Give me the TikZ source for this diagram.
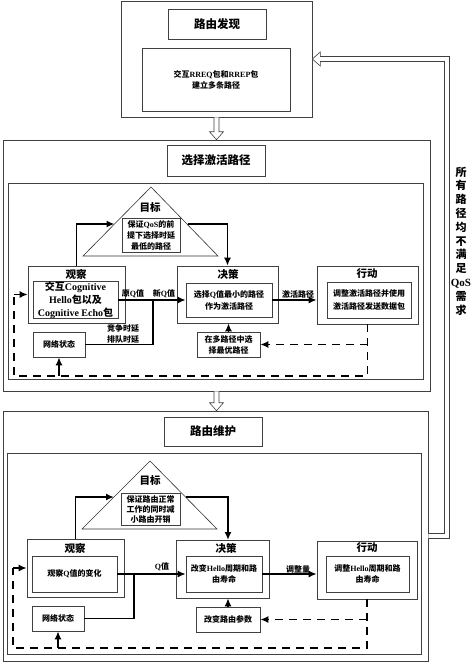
\documentclass[tikz,border=0pt]{standalone}
\usepackage{fontspec}
\setmainfont{Liberation Serif}
\newfontfamily\cjkf{Noto Sans CJK SC}
\usetikzlibrary{arrows.meta,calc}
\newcommand\C[1]{{\cjkf #1}}
\begin{document}
\begin{tikzpicture}[x=1pt,y=-1pt,
  box/.style={draw=black!75, line width=0.6pt, inner sep=0pt, align=center, fill=white},
  ttl/.style={box, font=\fontsize{11.5}{13}\selectfont\bfseries},
  sml/.style={font=\fontsize{8}{11}\selectfont\bfseries},
  lbl/.style={inner sep=0pt, font=\fontsize{10.5}{12}\selectfont\bfseries},
  txt/.style={inner sep=0pt, align=center, font=\fontsize{8}{11}\selectfont\bfseries},
  thk/.style={line width=1.7pt, -{Latex[length=8pt,width=7pt]}},
  thkn/.style={line width=1.7pt},
  dsh/.style={line width=1.8pt, dash pattern=on 8pt off 6pt},
  dsha/.style={dsh, -{Latex[length=8pt,width=7pt]}},
  hol/.style={draw=black!75, line width=0.6pt, fill=white, line join=miter},
  tri/.style={draw=black!80, line width=0.6pt}
]
\useasboundingbox (0,0) rectangle (474,664);

% ---------- route discovery ----------
\node[box, minimum width=191, minimum height=116] (disc) at (216.5,59) {};
\node[ttl, minimum width=98, minimum height=30] (discT) at (217,24) {\C{路由发现}};
\node[box, sml, minimum width=148, minimum height=63] (discI) at (216,79.5)
  {\C{交互}RREQ\C{包和}RREP\C{包}\\\C{建立多条路径}};

% ---------- select active path ----------
\node[box, minimum width=427, minimum height=251] (sel) at (216.5,265.5) {};
\node[ttl, minimum width=98, minimum height=31] (selT) at (216,160.5) {\C{选择激活路径}};
\node[box, minimum width=415, minimum height=196] (selI) at (215.5,281) {};

\coordinate (ta1) at (151,187);
\coordinate (tl1) at (83,256);
\coordinate (tr1) at (218,256);
\draw[tri] (ta1) -- (tl1) -- (tr1) -- cycle;
\node[lbl] (goal1) at (150,208) {\C{目标}};
\node[box, txt, minimum width=58, minimum height=34] (goalB1) at (151,235)
  {\C{保证}QoS\C{的前}\\\C{提下选择时延}\\\C{最低的路径}};

\node[box, minimum width=97, minimum height=57] (obs1) at (76.5,294.5) {};
\node[lbl] (obsL1) at (76,274) {\C{观察}};
\node[box, minimum width=85, minimum height=36, font=\fontsize{10}{13}\selectfont\bfseries] (obsI1) at (75.5,300)
  {\C{交互}Cognitive\\Hello\C{包以及}\\Cognitive Echo\C{包}};
\node[box, txt, minimum width=52, minimum height=25] (net1) at (59,344.5) {\C{网络状态}};

\node[box, minimum width=101, minimum height=57] (dec1) at (227.5,294.5) {};
\node[lbl] (decL1) at (228,274) {\C{决策}};
\node[box, txt, minimum width=86, minimum height=34, font=\fontsize{8}{12}\selectfont\bfseries] (decI1) at (229,300)
  {\C{选择}Q\C{值最小的路径}\\\C{作为激活路径}};

\node[box, minimum width=101, minimum height=58] (act1) at (367.5,295) {};
\node[lbl] (actL1) at (367,274) {\C{行动}};
\node[box, txt, minimum width=84, minimum height=36, font=\fontsize{8}{13}\selectfont\bfseries] (actI1) at (369,300)
  {\C{调整激活路径并使用}\\\C{激活路径发送数据包}};

\node[box, txt, minimum width=63, minimum height=25] (multi) at (228.5,344.5)
  {\C{在多路径中选}\\\C{择最优路径}};

% connectors section 2
\coordinate (gl1) at (114.5,224);
\coordinate (gr1) at (187.5,224);
\draw[thk] (obs1.north) -- (obs1.north |- gl1) -- (gl1);
\draw[thk] (gr1) -- (dec1.north |- gr1) -- (dec1.north);
\draw[thk] (obsI1.east) -- (decI1.west);
\coordinate (j1) at (153,300);
\draw[thkn] (net1.east) -- (j1 |- net1.east) -- (j1);
\node[txt] at (133,294) {\C{原}Q\C{值}};
\node[txt] at (164,294) {\C{新}Q\C{值}};
\node[txt] at (123,333.5) {\C{竞争时延}\\\C{排队时延}};
\draw[thk] (decI1.east) -- (act1.west |- decI1.east);
\node[txt] at (298,294) {\C{激活路径}};
\draw[thk] (multi.north) -- (multi.north |- dec1.south);
\coordinate (b1) at (14,376);
\draw[dsh] (act1.south) -- (act1.south |- b1) -- (b1) -- (b1 |- obs1.west);
\draw[dsha] (b1 |- obs1.west) -- (obs1.west);
\draw[dsha] (act1.south |- multi.east) -- (multi.east);
\draw[thk] (net1.south |- b1) -- (net1.south);

% ---------- route maintenance ----------
\node[box, minimum width=425, minimum height=250] (mnt) at (215.5,536) {};
\node[ttl, minimum width=98, minimum height=29] (mntT) at (213,431.5) {\C{路由维护}};
\node[box, minimum width=414, minimum height=201] (mntI) at (214,553.5) {};

\coordinate (ta2) at (150,461);
\coordinate (tl2) at (82,529);
\coordinate (tr2) at (217,529);
\draw[tri] (ta2) -- (tl2) -- (tr2) -- cycle;
\node[lbl] (goal2) at (150,481) {\C{目标}};
\node[box, txt, minimum width=59, minimum height=32, font=\fontsize{8}{10}\selectfont\bfseries] (goalB2) at (150.5,509)
  {\C{保证路由正常}\\\C{工作的同时减}\\\C{小路由开销}};

\node[box, minimum width=97, minimum height=58] (obs2) at (75.5,568) {};
\node[lbl] (obsL2) at (75,548) {\C{观察}};
\node[box, txt, minimum width=85, minimum height=36] (obsI2) at (74.5,574) {\C{观察}Q\C{值的变化}};
\node[box, txt, minimum width=52, minimum height=25] (net2) at (58,618.5) {\C{网络状态}};

\node[box, minimum width=93, minimum height=58] (dec2) at (223,569) {};
\node[lbl] (decL2) at (226,548) {\C{决策}};
\node[box, txt, minimum width=76, minimum height=36] (decI2) at (224,574)
  {\C{改变}Hello\C{周期和路}\\\C{由寿命}};

\node[box, minimum width=100, minimum height=58] (act2) at (367,570) {};
\node[lbl] (actL2) at (367,548) {\C{行动}};
\node[box, txt, minimum width=83, minimum height=36] (actI2) at (367.5,574)
  {\C{调整}Hello\C{周期和路}\\\C{由寿命}};

\node[box, txt, minimum width=64, minimum height=25] (param) at (228,619.5) {\C{改变路由参数}};

% connectors section 3
\coordinate (gl2) at (114,497);
\coordinate (gr2) at (186,497);
\draw[thk] (obs2.north) -- (obs2.north |- gl2) -- (gl2);
\draw[thk] (gr2) -- (228,497) -- (228,540);
\draw[thk] (obsI2.east) -- (decI2.west);
\coordinate (j2) at (134,574);
\draw[thkn] (net2.east) -- (j2 |- net2.east) -- (j2);
\node[txt] at (162,567) {Q\C{值}};
\draw[thk] (decI2.east) -- (act2.west |- decI2.east);
\node[txt] at (298,569) {\C{调整量}};
\draw[thk] (param.north) -- (param.north |- dec2.south);
\coordinate (b2) at (13,648);
\draw[dsh] (act2.south) -- (act2.south |- b2) -- (b2) -- (b2 |- obs2.west);
\draw[dsha] (b2 |- obs2.west) -- (obs2.west);
\draw[dsha] (act2.south |- param.east) -- (param.east);
\draw[thk] (net2.south |- b2) -- (net2.south);

% ---------- hollow arrows ----------
\draw[hol] ($(disc.south)+(-2.5,0)$) -- ($(sel.north)+(-2.5,-8)$) -- ($(sel.north)+(-7,-8)$)
  -- (sel.north) -- ($(sel.north)+(7,-8)$) -- ($(sel.north)+(2.5,-8)$) -- ($(disc.south)+(2.5,0)$);
\draw[hol] ($(sel.south)+(-2.5,0)$) -- ($(sel.south|-mnt.north)+(-2.5,-8)$) -- ($(sel.south|-mnt.north)+(-7,-8)$)
  -- (sel.south|-mnt.north) -- ($(sel.south|-mnt.north)+(7,-8)$) -- ($(sel.south|-mnt.north)+(2.5,-8)$) -- ($(sel.south)+(2.5,0)$);
\draw[hol] ($(mnt.east)+(0,2.5)$) -- (449.5,538.5) -- (449.5,56.5) -- ($(disc.east)+(8,-2.5)$)
  -- ($(disc.east)+(8,-7)$) -- (disc.east) -- ($(disc.east)+(8,7)$) -- ($(disc.east)+(8,2.5)$)
  -- (444.5,61.5) -- (444.5,533.5) -- ($(mnt.east)+(0,-2.5)$);

\node[inner sep=0pt, align=center, font=\fontsize{11}{13.8}\selectfont\bfseries] (note) at (461,241)
  {\C{所}\\\C{有}\\\C{路}\\\C{径}\\\C{均}\\\C{不}\\\C{满}\\\C{足}\\QoS\\\C{需}\\\C{求}};
\end{tikzpicture}
\end{document}
